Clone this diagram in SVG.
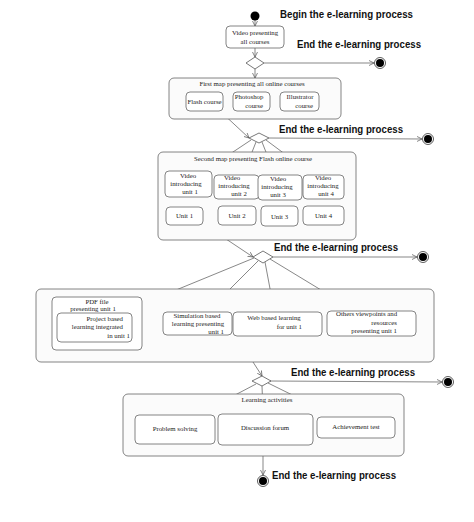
<svg xmlns="http://www.w3.org/2000/svg" width="474" height="522" viewBox="0 0 474 522">
<style>
.box{fill:#fff;stroke:#666;stroke-width:0.8}
.cont{fill:#fbfbfb;stroke:#666;stroke-width:0.8}
.dia{fill:#fff;stroke:#555;stroke-width:0.8}
.ln{fill:none;stroke:#555;stroke-width:0.7}
.arr{fill:none;stroke:#555;stroke-width:0.7;marker-end:url(#ah)}
.t{font-family:"Liberation Serif",serif;font-size:6.8px;fill:#222}
.m{text-anchor:middle}
.e{text-anchor:end}
.lab{font-family:"Liberation Sans",Arial,sans-serif;font-size:11px;font-weight:bold;fill:#111}
.fin{fill:#fff;stroke:#333;stroke-width:0.8}
</style>
<defs>
<marker id="ah" markerWidth="6" markerHeight="6" refX="5" refY="3" orient="auto" markerUnits="userSpaceOnUse">
<path d="M0,0.5 L5,3 L0,5.5" fill="none" stroke="#555" stroke-width="0.7"/>
</marker>
<g id="final"><circle r="5.5" class="fin"/><circle r="4" fill="#000"/></g>
</defs>

<g id="connectors">
<line class="arr" x1="255" y1="20" x2="255" y2="26"/>
<line class="arr" x1="255" y1="48" x2="255" y2="57"/>
<line class="arr" x1="264" y1="63" x2="374" y2="63"/>
<line class="arr" x1="255" y1="69" x2="255" y2="78"/>
<line class="arr" x1="220" y1="111" x2="249" y2="138"/>
<line class="arr" x1="269" y1="138" x2="422" y2="139"/>
<line class="arr" x1="251" y1="140" x2="203" y2="172"/>
<line class="arr" x1="256" y1="142" x2="243" y2="175"/>
<line class="arr" x1="262" y1="142" x2="275" y2="175"/>
<line class="arr" x1="266" y1="140" x2="313" y2="175"/>
<line class="arr" x1="186" y1="197" x2="186" y2="207"/>
<line class="arr" x1="237" y1="199" x2="237" y2="206"/>
<line class="arr" x1="277" y1="200" x2="277" y2="206"/>
<line class="arr" x1="323" y1="199" x2="323" y2="206"/>
<line class="arr" x1="205" y1="225" x2="253" y2="257"/>
<line class="arr" x1="273" y1="257" x2="417" y2="257"/>
<line class="arr" x1="254" y1="258" x2="142" y2="304"/>
<line class="arr" x1="258" y1="261" x2="208" y2="311"/>
<line class="arr" x1="265" y1="262" x2="274" y2="310"/>
<line class="arr" x1="270" y1="259" x2="354" y2="310"/>
<line class="arr" x1="253" y1="362" x2="262" y2="376"/>
<line class="arr" x1="270" y1="381" x2="442" y2="382"/>
<line class="arr" x1="256" y1="384" x2="199" y2="414"/>
<line class="arr" x1="262" y1="386" x2="263" y2="413"/>
<line class="arr" x1="268" y1="383" x2="337" y2="417"/>
<line class="arr" x1="263" y1="456" x2="263" y2="475"/>
</g>

<g id="start"><circle cx="255" cy="16" r="4.5" fill="#000"/></g>
<text class="lab" x="280" y="18" textLength="133" lengthAdjust="spacingAndGlyphs">Begin the e-learning process</text>

<g id="video-all">
<rect class="box" x="226" y="26" width="58" height="22" rx="4"/>
<text class="t m" x="255" y="35">Video presenting</text>
<text class="t m" x="255" y="44">all courses</text>
</g>
<polygon id="dec1" class="dia" points="246,63 255,57 264,63 255,69"/>
<use href="#final" x="380" y="63"/>
<text class="lab" x="297" y="48" textLength="124" lengthAdjust="spacingAndGlyphs">End the e-learning process</text>

<g id="first-map">
<rect class="cont" x="169" y="78" width="172" height="41" rx="5"/>
<text class="t m" x="252" y="86">First map presenting all online courses</text>
</g>
<g id="flash"><rect class="box" x="186" y="92" width="37" height="19" rx="4"/><text class="t m" x="204.5" y="104">Flash course</text></g>
<g id="photoshop"><rect class="box" x="233" y="92" width="37" height="19" rx="4"/><text class="t m" x="249" y="99">Photoshop</text><text class="t e" x="263" y="108">course</text></g>
<g id="illustrator"><rect class="box" x="280" y="92" width="39" height="19" rx="4"/><text class="t m" x="300" y="99">Illustrator</text><text class="t e" x="313" y="108">course</text></g>

<polygon id="dec2" class="dia" points="249,138 259,133 269,138 259,143"/>
<use href="#final" x="428" y="139"/>
<text class="lab" x="279" y="133" textLength="124" lengthAdjust="spacingAndGlyphs">End the e-learning process</text>

<g id="second-map">
<rect class="cont" x="158" y="152" width="198" height="88" rx="5"/>
<text class="t m" x="253" y="161">Second map presenting Flash online course</text>
</g>
<g id="video1"><rect class="box" x="165" y="171" width="47" height="26" rx="4"/><text class="t m" x="188" y="178">Video</text><text class="t m" x="186" y="186">introducing</text><text class="t m" x="190" y="194">unit 1</text></g>
<g id="video2"><rect class="box" x="214" y="175" width="45" height="24" rx="4"/><text class="t m" x="232" y="180">Video</text><text class="t m" x="234" y="188">introducing</text><text class="t m" x="239" y="196">unit 2</text></g>
<g id="video3"><rect class="box" x="258" y="175" width="44" height="25" rx="4"/><text class="t m" x="278" y="181">Video</text><text class="t m" x="277" y="189">introducing</text><text class="t m" x="278" y="197">unit 3</text></g>
<g id="video4"><rect class="box" x="303" y="175" width="41" height="24" rx="4"/><text class="t m" x="323" y="180">Video</text><text class="t m" x="323" y="188">introducing</text><text class="t m" x="326" y="196">unit 4</text></g>
<g id="unit1"><rect class="box" x="166" y="207" width="37" height="18" rx="4"/><text class="t m" x="184.5" y="218">Unit 1</text></g>
<g id="unit2"><rect class="box" x="218" y="206" width="38" height="19" rx="4"/><text class="t m" x="237" y="218">Unit 2</text></g>
<g id="unit3"><rect class="box" x="261" y="206" width="37" height="20" rx="4"/><text class="t m" x="279.5" y="219">Unit 3</text></g>
<g id="unit4"><rect class="box" x="303" y="206" width="41" height="19" rx="4"/><text class="t m" x="323.5" y="218">Unit 4</text></g>

<polygon id="dec3" class="dia" points="253,257 263,251 273,257 263,263"/>
<use href="#final" x="423" y="257"/>
<text class="lab" x="274" y="251" textLength="124" lengthAdjust="spacingAndGlyphs">End the e-learning process</text>

<rect id="unit1-resources" class="cont" x="36" y="289" width="398" height="73" rx="5"/>
<g id="pdf">
<rect class="box" x="52" y="297" width="90" height="53" rx="4"/>
<text class="t m" x="97" y="304">PDF file</text>
<text class="t m" x="93" y="311">presenting unit 1</text>
<rect class="box" x="57" y="313" width="75" height="29" rx="4"/>
<text class="t e" x="123" y="321">Project based</text>
<text class="t e" x="123" y="329">learning integrated</text>
<text class="t e" x="130" y="338">in unit 1</text>
</g>
<g id="simulation"><rect class="box" x="163" y="312" width="69" height="23" rx="4"/><text class="t m" x="197" y="318">Simulation based</text><text class="t m" x="198" y="326">learning presenting</text><text class="t e" x="224" y="334">unit 1</text></g>
<g id="web"><rect class="box" x="233" y="312" width="89" height="24" rx="4"/><text class="t m" x="274" y="320">Web based learning</text><text class="t e" x="302" y="329">for unit 1</text></g>
<g id="others"><rect class="box" x="327" y="311" width="89" height="25" rx="4"/><text class="t" x="336" y="316">Others viewpoints and</text><text class="t e" x="397" y="325">resources</text><text class="t e" x="397" y="333">presenting unit 1</text></g>

<polygon id="dec4" class="dia" points="252,381 262,376 271,381 262,386"/>
<use href="#final" x="448" y="382"/>
<text class="lab" x="291" y="376" textLength="124" lengthAdjust="spacingAndGlyphs">End the e-learning process</text>

<g id="learning-activities">
<rect class="cont" x="123" y="394" width="281" height="62" rx="5"/>
<text class="t m" x="267" y="402">Learning activities</text>
</g>
<g id="problem"><rect class="box" x="135" y="415" width="80" height="29" rx="4"/><text class="t m" x="175" y="431">Problem solving</text></g>
<g id="discussion"><rect class="box" x="218" y="414" width="95" height="31" rx="4"/><text class="t m" x="265" y="430">Discussion forum</text></g>
<g id="achievement"><rect class="box" x="317" y="417" width="78" height="21" rx="4"/><text class="t m" x="356" y="429">Achievement test</text></g>

<use href="#final" x="263" y="481"/>
<text class="lab" x="272" y="479" textLength="124" lengthAdjust="spacingAndGlyphs">End the e-learning process</text>
</svg>
